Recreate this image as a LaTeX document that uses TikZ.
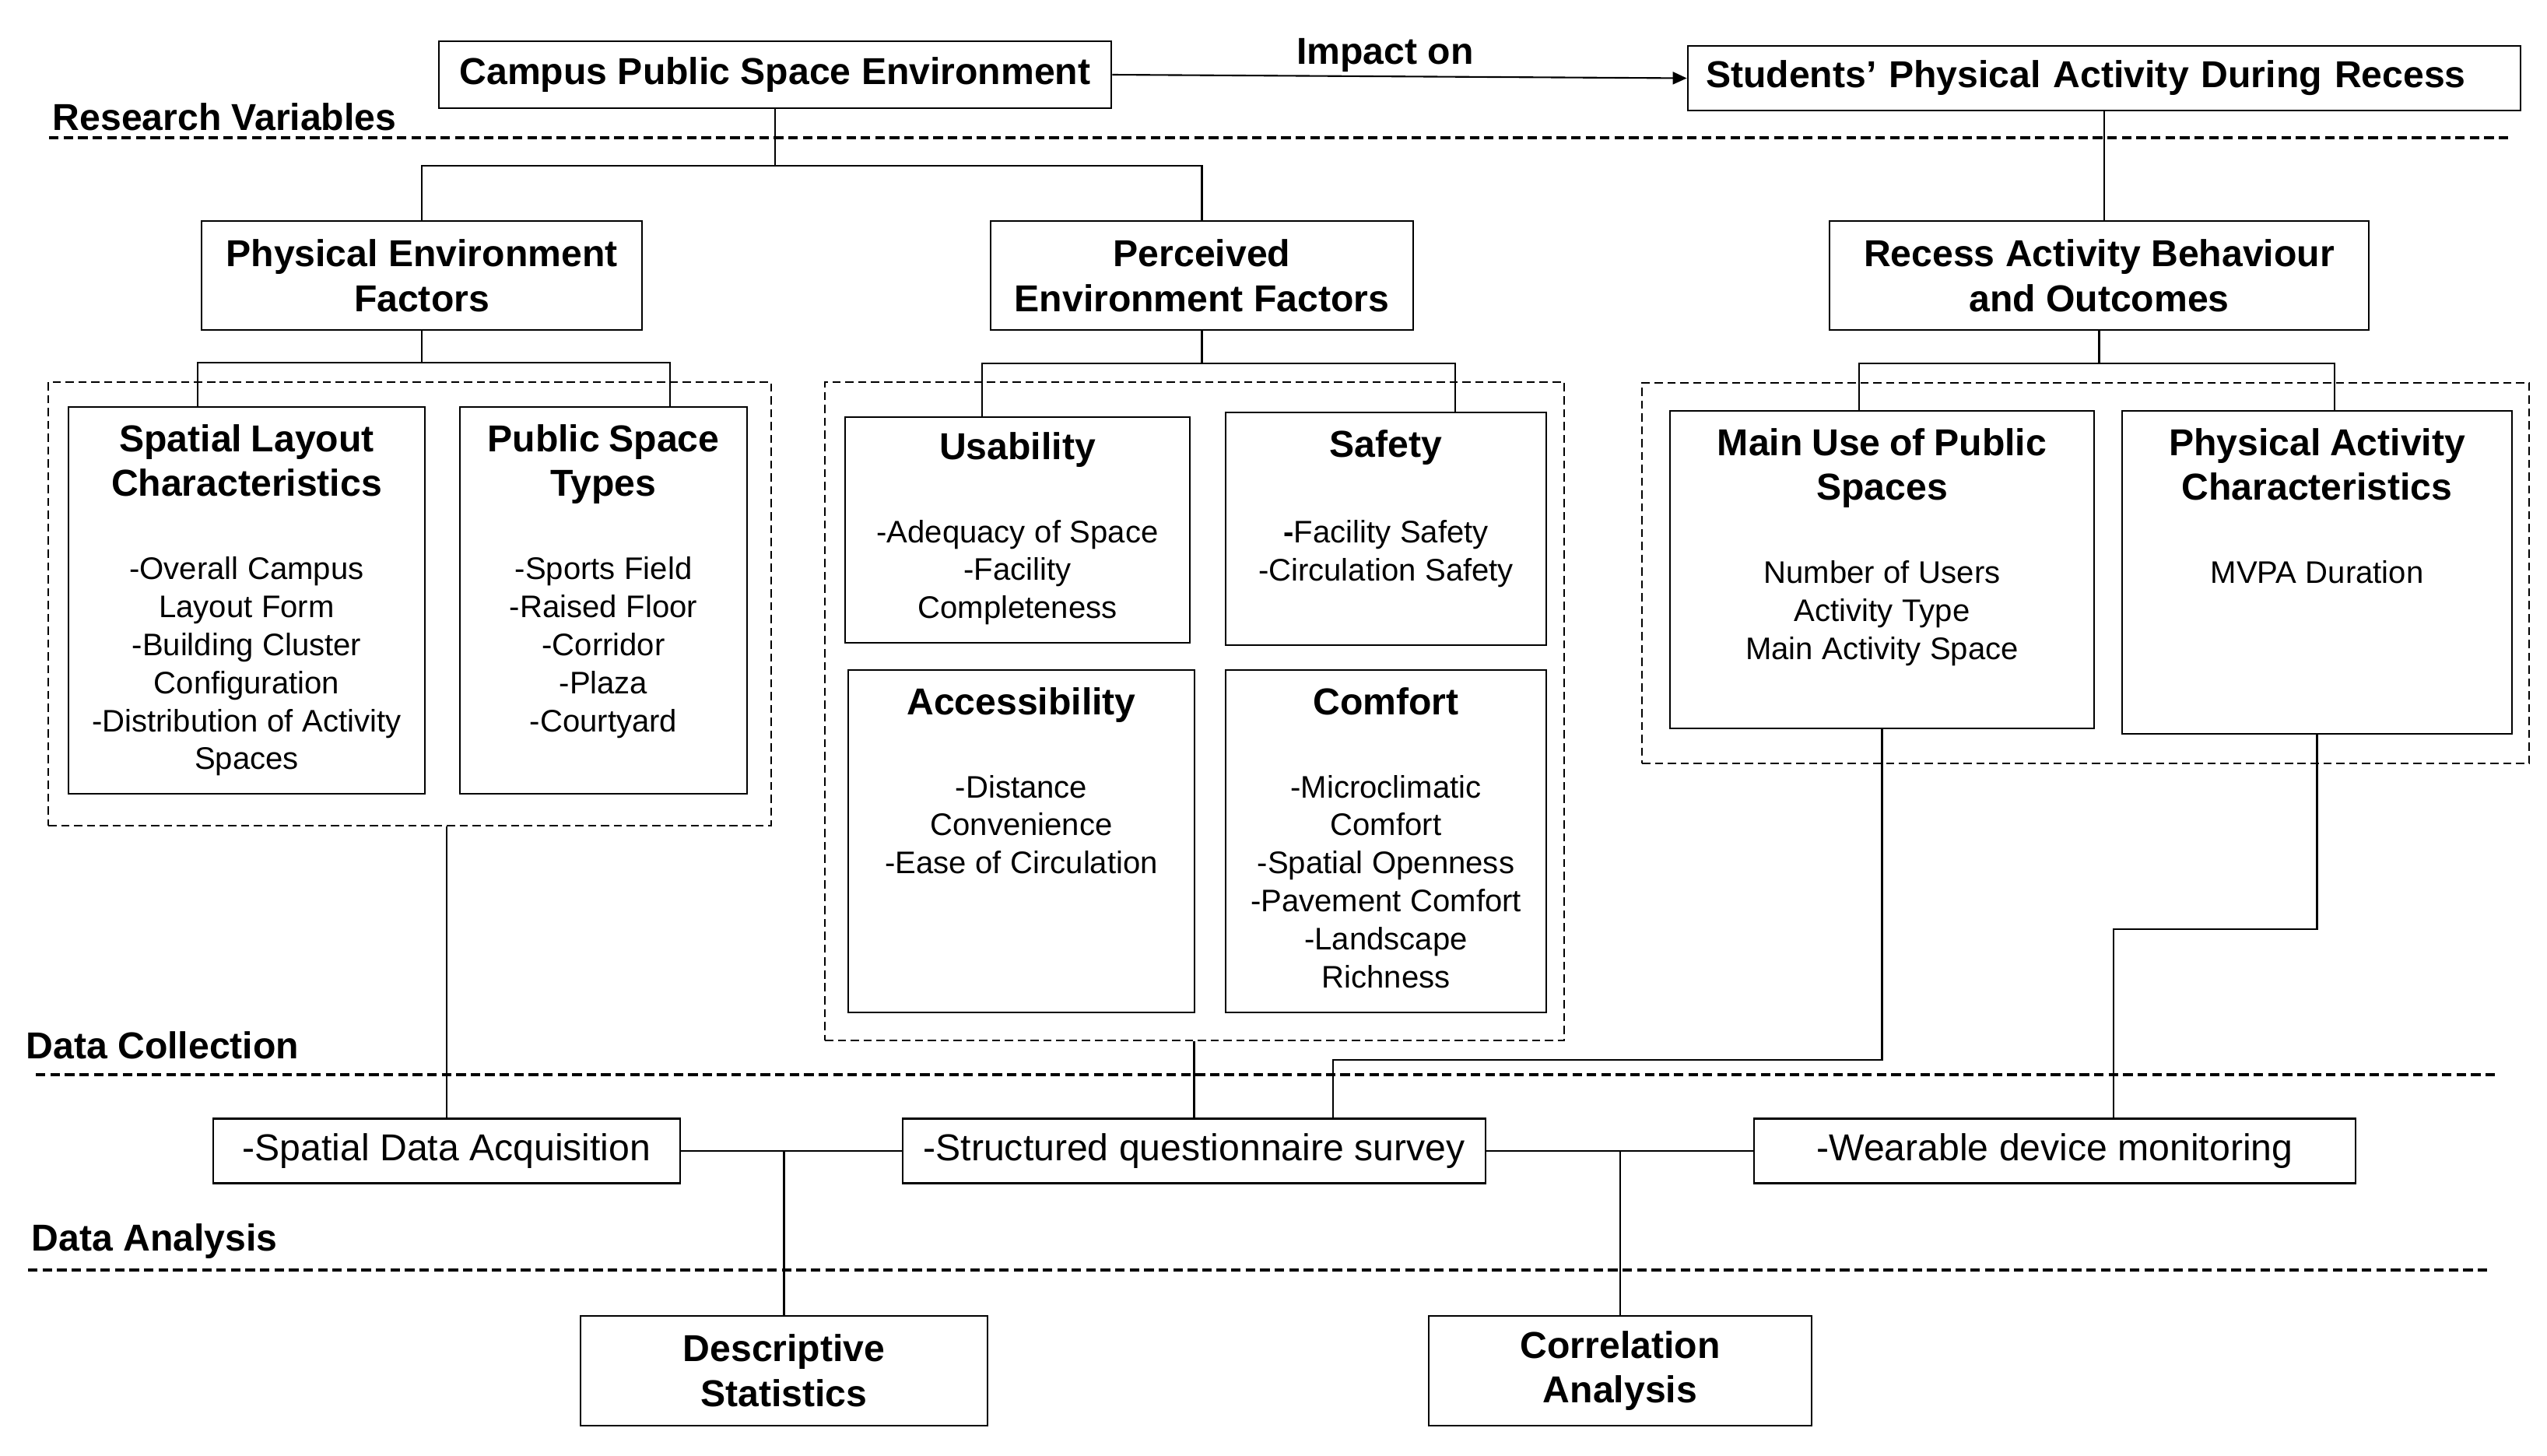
\documentclass[tikz,border=0pt]{standalone}
\usepackage{fontspec}
\setmainfont{Liberation Sans}
\usetikzlibrary{positioning,arrows.meta}
\newcommand\headfont{\fontsize{13.7pt}{16.4pt}\selectfont\bfseries}
\newcommand\bodyfont{\normalfont\fontsize{11.4pt}{13.9pt}\selectfont}
\newcommand\midfont{\normalfont\fontsize{13.7pt}{16.4pt}\selectfont}

\begin{document}
\begin{tikzpicture}[
  box/.style={draw, line width=0.8pt, inner sep=0pt},
  hbox/.style={box, align=center, font=\headfont},
  grp/.style={draw, line width=0.6pt, dash pattern=on 3pt off 1.7pt, inner sep=0pt},
  txt/.style={align=center, inner sep=0pt, text width=#1},
  lbl/.style={font=\headfont, inner sep=0pt, anchor=west},
  divider/.style={line width=0.9pt, dash pattern=on 3.5pt off 1.8pt},
  conn/.style={line width=0.6pt}]
  \useasboundingbox (0,0) rectangle (32.73,-18.70);

  % section labels and dividers
  \node[lbl] (rv) at (0.67,-1.50) {Research Variables};
  \node[lbl] (dc) at (0.33,-13.43) {Data Collection};
  \node[lbl] (da) at (0.40,-15.95) {Data Analysis};
  \foreach \y/\a/\b in {-1.77/0.63/32.27, -13.81/0.46/32.11, -16.32/0.36/31.98}
    \draw[divider] (\a,\y) -- (\b,\y);

  % top level
  \node[hbox, minimum width=8.64cm, minimum height=0.86cm] (campus) at (9.96,-0.96) {Campus Public Space Environment};
  \node[box, font=\headfont, align=left, text width=10.24cm, inner xsep=0.23cm, minimum height=0.83cm] (students) at (27.04,-1.005) {Students’ Physical Activity During Recess};
  \draw[conn, -{Triangle[length=0.18cm,width=0.16cm]}] (campus.east) -- node[lbl, above=0.05cm, pos=0.475] (impact) {Impact on} (students.west);

  \node[hbox, minimum width=5.66cm, minimum height=1.40cm] (physical) at (5.42,-3.54) {Physical Environment\\Factors};
  \node[hbox, minimum width=5.43cm, minimum height=1.40cm] (perceived) at (15.445,-3.54) {Perceived\\Environment Factors};
  \node[hbox, minimum width=6.93cm, minimum height=1.40cm] (recess) at (26.975,-3.54) {Recess Activity Behaviour\\and Outcomes};

  % factor groups
  \node[grp, minimum width=9.29cm, minimum height=5.70cm] (grp1) at (5.265,-7.76) {};
  \node[grp, minimum width=9.50cm, minimum height=8.46cm] (grp2) at (15.35,-9.14) {};
  \node[grp, minimum width=11.40cm, minimum height=4.89cm] (grp3) at (26.80,-7.365) {};

  \node[box, minimum width=4.58cm, minimum height=4.97cm] (spatial) at (3.17,-7.715) {};
  \node[txt=4.4cm, below=0.23cm of spatial.north] (spatial-t) {\headfont Spatial Layout\\Characteristics\par\vspace{16.5pt}\bodyfont -Overall Campus\\Layout Form\\-Building Cluster\\Configuration\\-Distribution of Activity\\Spaces\par};
  \node[box, minimum width=3.69cm, minimum height=4.97cm] (types) at (7.755,-7.715) {};
  \node[txt=3.5cm, below=0.23cm of types.north] (types-t) {\headfont Public Space\\Types\par\vspace{16.5pt}\bodyfont -Sports Field\\-Raised Floor\\-Corridor\\-Plaza\\-Courtyard\par};

  \node[box, minimum width=4.43cm, minimum height=2.90cm] (usability) at (13.075,-6.81) {};
  \node[txt=4.3cm, below=0.2cm of usability.north] (usability-t) {\headfont Usability\par\vspace{16.5pt}\bodyfont -Adequacy of Space\\-Facility\\Completeness\par};
  \node[box, minimum width=4.12cm, minimum height=2.99cm] (safety) at (17.81,-6.795) {};
  \node[txt=4.0cm, below=0.23cm of safety.north] (safety-t) {\headfont Safety\par\vspace{17.5pt}\bodyfont \textbf{-}Facility Safety\\-Circulation Safety\par};
  \node[box, minimum width=4.45cm, minimum height=4.40cm] (access) at (13.125,-10.81) {};
  \node[txt=4.3cm, below=0.23cm of access.north] (access-t) {\headfont Accessibility\par\vspace{16.5pt}\bodyfont -Distance\\Convenience\\-Ease of Circulation\par};
  \node[box, minimum width=4.12cm, minimum height=4.40cm] (comfort) at (17.81,-10.81) {};
  \node[txt=4.0cm, below=0.23cm of comfort.north] (comfort-t) {\headfont Comfort\par\vspace{16.5pt}\bodyfont -Microclimatic\\Comfort\\-Spatial Openness\\-Pavement Comfort\\-Landscape\\Richness\par};

  \node[box, minimum width=5.45cm, minimum height=4.08cm] (mainuse) at (24.185,-7.32) {};
  \node[txt=5.3cm, below=0.23cm of mainuse.north] (mainuse-t) {\headfont Main Use of Public\\Spaces\par\vspace{16.5pt}\bodyfont Number of Users\\Activity Type\\Main Activity Space\par};
  \node[box, minimum width=5.01cm, minimum height=4.15cm] (pachar) at (29.775,-7.355) {};
  \node[txt=4.9cm, below=0.23cm of pachar.north] (pachar-t) {\headfont Physical Activity\\Characteristics\par\vspace{16.5pt}\bodyfont MVPA Duration\par};

  % data collection and analysis
  \foreach \n/\x/\w/\t in {spatialdata/5.74/6.00/{-Spatial Data Acquisition}, survey/15.345/7.49/{-Structured questionnaire survey}, wearable/26.405/7.73/{-Wearable device monitoring}}
    \node[box, font=\midfont, minimum width=\w cm, minimum height=0.83cm] (\n) at (\x,-14.79) {\t};
  \node[hbox, minimum width=5.23cm, minimum height=1.41cm] (descriptive) at (10.075,-17.615) {Descriptive\\Statistics};
  \node[hbox, minimum width=4.92cm, minimum height=1.41cm] (correlation) at (20.82,-17.615) {Correlation\\Analysis};

  % connectors
  \draw[conn] (campus.south) -- ++(0,-0.725);
  \draw[conn] (physical.north) |- ([yshift=-0.725cm]campus.south) -| (perceived.north);
  \draw[conn] (students.south) -- (students.south |- recess.north);
  \draw[conn] (physical.south) -- ++(0,-0.405);
  \draw[conn] ([xshift=-0.63cm]spatial.north) |- ([yshift=-0.405cm]physical.south) -| ([xshift=0.855cm]types.north);
  \draw[conn] (perceived.south) -- ++(0,-0.42);
  \draw[conn] ([xshift=-0.455cm]usability.north) |- ([yshift=-0.42cm]perceived.south) -| ([xshift=0.89cm]safety.north);
  \draw[conn] (recess.south) -- ++(0,-0.42);
  \draw[conn] ([xshift=-0.295cm]mainuse.north) |- ([yshift=-0.42cm]recess.south) -| ([xshift=0.225cm]pachar.north);

  \coordinate (m1) at (17.13,-13.62);
  \coordinate (p1) at (27.16,-11.94);
  \draw[conn] (spatialdata.north |- grp1.south) -- (spatialdata.north);
  \draw[conn] (survey.north |- grp2.south) -- (survey.north);
  \draw[conn] (mainuse.south) |- (m1) -- (m1 |- survey.north);
  \draw[conn] (pachar.south) |- (p1) -- (p1 |- wearable.north);
  \draw[conn] (spatialdata.east) -- (survey.west);
  \draw[conn] (survey.east) -- (wearable.west);
  \draw[conn] (descriptive.north) -- (descriptive.north |- spatialdata.east);
  \draw[conn] (correlation.north) -- (correlation.north |- survey.east);
\end{tikzpicture}
\end{document}
